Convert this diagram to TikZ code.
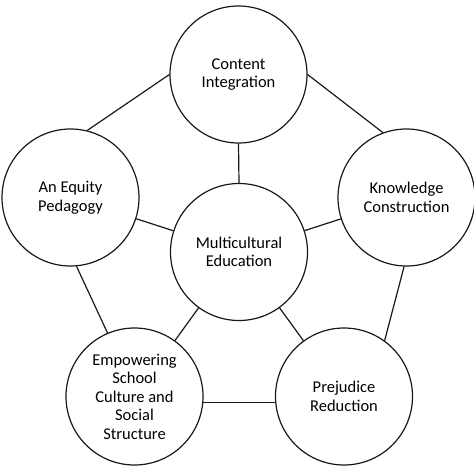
\documentclass[tikz,border=0pt]{standalone}
\usepackage{fontspec}
\setmainfont{Carlito}
\begin{document}
\begin{tikzpicture}[x=1pt,y=-1pt,
  concept/.style={circle,draw=black!90,line width=1.2pt,minimum size=137pt,inner sep=0pt,
    align=center,font=\fontsize{16.5}{18.5}\selectfont,text=black},
  link/.style={draw=black!90,line width=1.2pt}]
\useasboundingbox (0,0) rectangle (474,474);
\node[concept] (ci) at (238.5,74.5) {Content\\Integration};
\node[concept] (ep) at (70.5,197.5) {An Equity\\Pedagogy};
\node[concept] (kc) at (406.5,197.5) {Knowledge\\Construction};
\node[concept] (me) at (239,252) {Multicultural\\Education};
\node[concept] (es) at (134.5,396.5) {Empowering\\School\\Culture and\\Social\\Structure};
\node[concept] (pr) at (344,396.5) {Prejudice\\Reduction};
\draw[link] (ci.180) -- (ep.76);
\draw[link] (ci.0) -- (kc.110);
\draw[link] (ci.south) -- (me.north);
\draw[link] (ep) -- (me);
\draw[link] (kc) -- (me);
\draw[link] (ep.-85) -- (es.113);
\draw[link] (kc.-92) -- (pr.54);
\draw[link] (me) -- (es);
\draw[link] (me) -- (pr);
\draw[link] (es.-5.5) -- (pr.185.5);
\end{tikzpicture}
\end{document}
